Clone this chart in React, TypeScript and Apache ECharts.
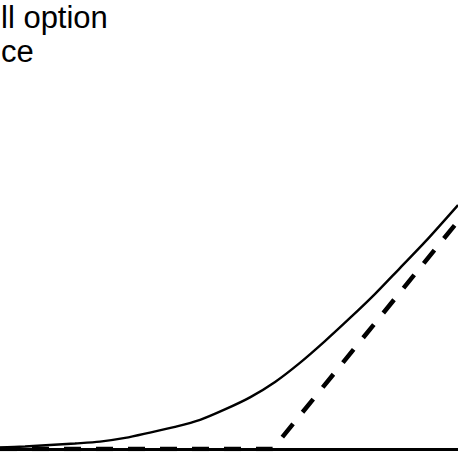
import { useEffect, useRef } from 'react';
import * as echarts from 'echarts';

// stock price (x) vs. value (y); strike at 100
const payoffPoints: [number, number][] = [
  [0, 0],
  [100, 0],
  [168, 68],
];

const optionValuePoints: [number, number][] = [
  [0, 0.45],
  [9.2, 0.75],
  [18.3, 1.2],
  [27.5, 1.65],
  [36.7, 2.2],
  [45.9, 3.3],
  [55, 4.9],
  [64.2, 6.6],
  [73.4, 8.7],
  [82.5, 11.8],
  [91.7, 15.4],
  [100.9, 20.0],
  [110, 25.7],
  [119.2, 32.2],
  [128.4, 39.1],
  [137.6, 46.3],
  [146.7, 54.0],
  [155.9, 61.8],
  [168, 72.8],
];

// the label is cropped by the left edge of the picture
const titleLines = ['ll option', 'ce'];

const FONT = '"Liberation Sans", Arial, sans-serif';

export default function App() {
  const chartRef = useRef<HTMLDivElement | null>(null);

  useEffect(() => {
    if (!chartRef.current) {
      return;
    }
    const chart = echarts.init(chartRef.current, undefined, { renderer: 'svg' });
    chart.setOption({
      animation: false,
      backgroundColor: '#ffffff',
      grid: { left: 0, right: 0, top: 0, bottom: 9 },
      graphic: [
        {
          type: 'text',
          left: 1,
          top: 2,
          style: { text: titleLines[0], fill: '#000', fontSize: 31, fontFamily: FONT },
        },
        {
          type: 'text',
          left: 1,
          top: 36,
          style: { text: titleLines[1], fill: '#000', fontSize: 31, fontFamily: FONT },
        },
      ],
      xAxis: {
        type: 'value',
        min: 0,
        max: 168,
        axisLine: { show: true, onZero: false, lineStyle: { color: '#000', width: 3 } },
        axisTick: { show: false },
        axisLabel: { show: false },
        splitLine: { show: false },
      },
      yAxis: {
        type: 'value',
        min: 0,
        max: 134,
        show: false,
        splitLine: { show: false },
      },
      series: [
        {
          type: 'line',
          data: payoffPoints,
          symbol: 'none',
          lineStyle: { color: '#000', width: 4.5, type: [17, 15], cap: 'butt' },
          z: 3,
        },
        {
          type: 'line',
          data: optionValuePoints,
          symbol: 'none',
          smooth: 0.3,
          lineStyle: { color: '#000', width: 2.4 },
          z: 4,
        },
      ],
    });
    return () => {
      chart.dispose();
    };
  }, []);

  return (
    <div
      ref={chartRef}
      style={{ position: 'fixed', left: 0, top: 0, width: 458, height: 458 }}
    />
  );
}
